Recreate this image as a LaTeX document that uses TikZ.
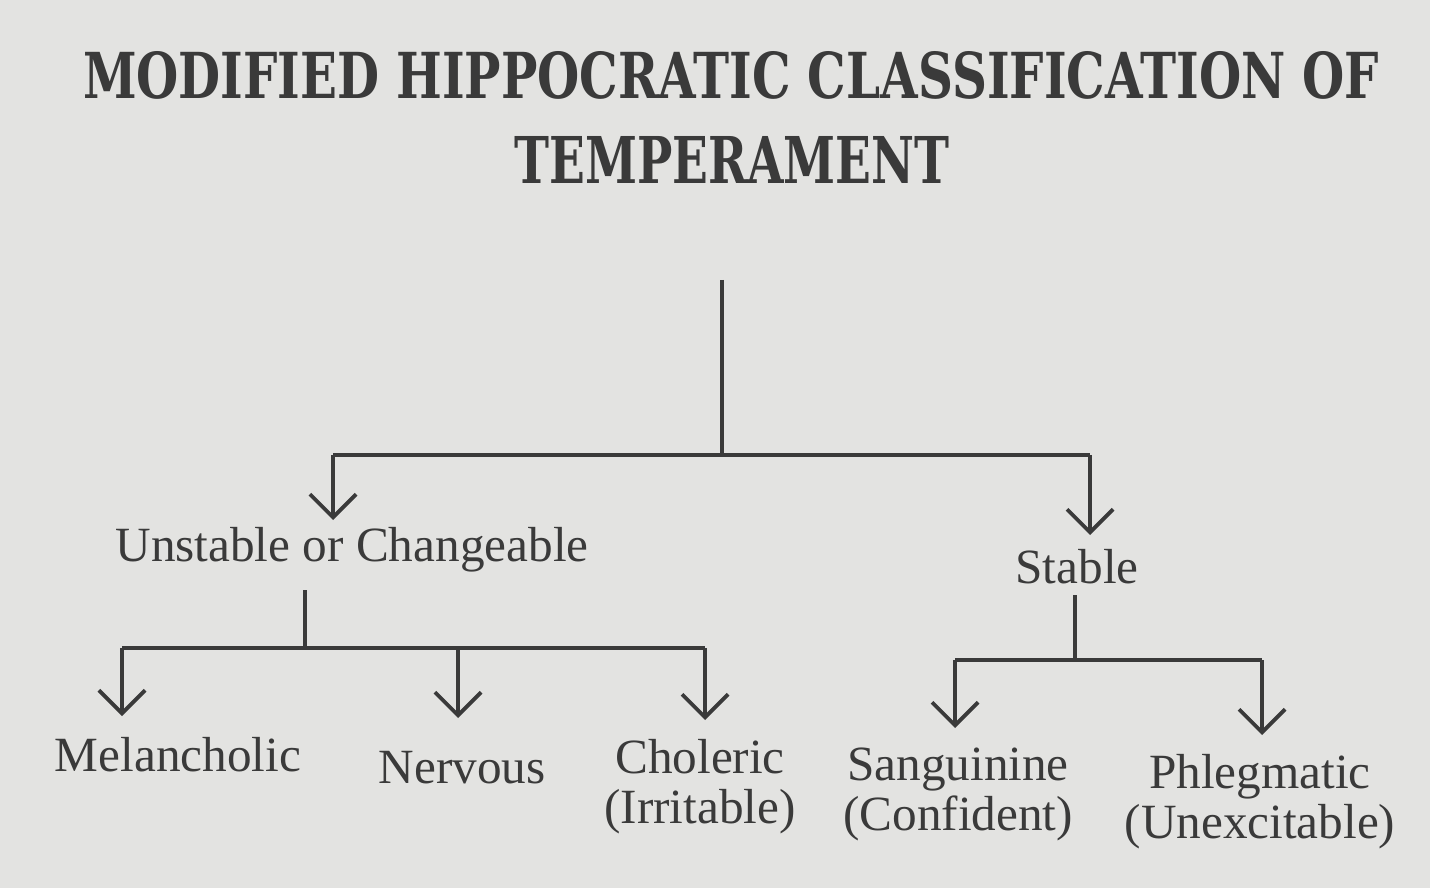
\documentclass[tikz,border=0pt]{standalone}
\usepackage{fontspec}
\setmainfont{Liberation Serif}
\newfontfamily\titlefont{DejaVu Serif}
\usetikzlibrary{arrows.meta}
\definecolor{paper}{HTML}{E3E3E1}
\definecolor{ink}{HTML}{3A3A3A}
\newcommand{\headtext}[3]{\resizebox{#1}{#2}{\titlefont\bfseries #3}}

\begin{document}
\begin{tikzpicture}[
    x=0.01cm, y=-0.01cm,
    label/.style={text=ink, font=\fontsize{14}{14.2}\selectfont, align=center},
    heading/.style={text=ink, inner sep=0pt},
    link/.style={draw=ink, line width=1.1pt},
    down/.style={link, -{Straight Barb[length=2.3mm, width=4.6mm, line width=1.1pt]}}
  ]
        % Page
        \useasboundingbox (0,0) rectangle (1430,888);
        \fill[paper] (0,0) rectangle (1430,888);

        % Title
        \node (T1) at (731,75) [heading] {\headtext{12.95cm}{0.47cm}{MODIFIED HIPPOCRATIC CLASSIFICATION OF}};
        \node (T2) at (732,160) [heading] {\headtext{4.35cm}{0.47cm}{TEMPERAMENT}};

        % Nodes
        \coordinate (R) at (722,280);
        \coordinate (RJ) at (722,455);
        \coordinate (RL) at (333,455);
        \coordinate (RR) at (1090,455);
        \node (U) at (352,550) [label] {Unstable or Changeable};
        \node (S) at (1077,567) [label] {Stable};
        \coordinate (UT) at (305,590);
        \coordinate (UJ) at (305,648);
        \coordinate (UL) at (122,648);
        \coordinate (UM) at (458,648);
        \coordinate (UR) at (705,648);
        \coordinate (ST) at (1075,595);
        \coordinate (SJ) at (1075,660);
        \coordinate (SL) at (955,660);
        \coordinate (SR) at (1262,660);
        \node (M) at (178,755) [label] {Melancholic};
        \node (N) at (462,768) [label] {Nervous};
        \node (C) at (700,787) [label] {Choleric\\(Irritable)};
        \node (G) at (958,794) [label] {Sanguinine\\(Confident)};
        \node (P) at (1260,802) [label] {Phlegmatic\\(Unexcitable)};

        % Edges
        \draw[link] (R) -- (RJ);
        \draw[link] (RL) -- (RR);
        \draw[down] (RL) -- (333,520);
        \draw[down] (RR) -- (1090,535);
        \draw[link] (UT) -- (UJ);
        \draw[link] (UL) -- (UR);
        \draw[down] (UL) -- (122,716);
        \draw[down] (UM) -- (458,718);
        \draw[down] (UR) -- (705,720);
        \draw[link] (ST) -- (SJ);
        \draw[link] (SL) -- (SR);
        \draw[down] (SL) -- (955,728);
        \draw[down] (SR) -- (1262,735);
    \end{tikzpicture}
\end{document}
